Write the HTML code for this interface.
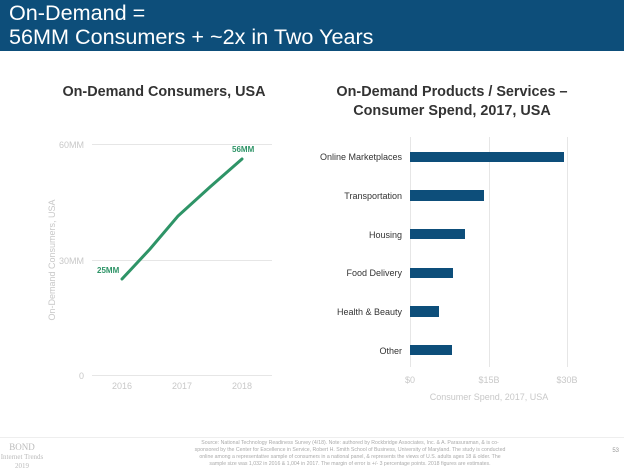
<!DOCTYPE html>
<html><head><meta charset="utf-8"><style>
body{margin:0;width:624px;height:470px;background:#fff;overflow:hidden;font-family:"Liberation Sans",sans-serif}
</style></head><body>
<svg width="624" height="470" xmlns="http://www.w3.org/2000/svg" font-family="Liberation Sans, sans-serif">
<rect x="0" y="0" width="624" height="51" fill="#0D4E7A"/>
<text x="9" y="20" font-size="21.6" fill="#fff">On-Demand =</text>
<text x="9" y="44" font-size="21.6" fill="#fff">56MM Consumers + ~2x in Two Years</text>
<text x="164" y="96" font-size="14.4" font-weight="bold" fill="#333" text-anchor="middle">On-Demand Consumers, USA</text>
<text x="452" y="96" font-size="14.4" font-weight="bold" fill="#333" text-anchor="middle">On-Demand Products / Services –</text>
<text x="452" y="115" font-size="14.4" font-weight="bold" fill="#333" text-anchor="middle">Consumer Spend, 2017, USA</text>
<g stroke="#e6e6e6" stroke-width="1">
<line x1="92" y1="144.5" x2="272" y2="144.5"/><line x1="92" y1="260.5" x2="272" y2="260.5"/><line x1="92" y1="375.5" x2="272" y2="375.5"/>
<line x1="410.5" y1="137" x2="410.5" y2="367"/><line x1="489.5" y1="137" x2="489.5" y2="367"/><line x1="567.5" y1="137" x2="567.5" y2="367"/>
</g>
<g font-size="9" fill="#c8c8c8">
<text x="84" y="148" text-anchor="end">60MM</text><text x="84" y="264" text-anchor="end">30MM</text><text x="84" y="379" text-anchor="end">0</text>
<text x="122" y="389" text-anchor="middle">2016</text><text x="182" y="389" text-anchor="middle">2017</text><text x="242" y="389" text-anchor="middle">2018</text>
<text x="410" y="383" text-anchor="middle">$0</text><text x="489" y="383" text-anchor="middle">$15B</text><text x="567" y="383" text-anchor="middle">$30B</text>
<text x="489" y="400" text-anchor="middle">Consumer Spend, 2017, USA</text>
<text transform="translate(55,260) rotate(-90)" text-anchor="middle">On-Demand Consumers, USA</text>
</g>
<polyline points="122,279 150,249 178,216 210,187 242,159" fill="none" stroke="#2E9467" stroke-width="3" stroke-linecap="round"/>
<g font-size="8" font-weight="bold" fill="#2E9467">
<text x="97" y="273">25MM</text><text x="232" y="152">56MM</text>
</g>
<g fill="#0D4E7A">
<rect x="410" y="152" width="154" height="10"/>
<rect x="410" y="190" width="74" height="11"/>
<rect x="410" y="229" width="55" height="10"/>
<rect x="410" y="268" width="43" height="10"/>
<rect x="410" y="306" width="29" height="11"/>
<rect x="410" y="345" width="42" height="10"/>
</g>
<g font-size="9" fill="#333" text-anchor="end">
<text x="402" y="160">Online Marketplaces</text>
<text x="402" y="199">Transportation</text>
<text x="402" y="238">Housing</text>
<text x="402" y="276">Food Delivery</text>
<text x="402" y="315">Health &amp; Beauty</text>
<text x="402" y="354">Other</text>
</g>
<line x1="0" y1="437.5" x2="624" y2="437.5" stroke="#eee"/>
<g font-family="Liberation Serif, serif" fill="#bbb" text-anchor="middle">
<text x="22" y="450" font-size="9">BOND</text>
<text x="22" y="459" font-size="7">Internet Trends</text>
<text x="22" y="468" font-size="7">2019</text>
</g>
<g font-size="5.2" fill="#aaa" text-anchor="middle">
<text x="350" y="444">Source: National Technology Readiness Survey (4/18). Note: authored by Rockbridge Associates, Inc. &amp; A. Parasuraman, &amp; is co-</text>
<text x="350" y="451">sponsored by the Center for Excellence in Service, Robert H. Smith School of Business, University of Maryland.  The study is conducted</text>
<text x="350" y="458">online among a representative sample of consumers in a national panel, &amp; represents the views of U.S. adults ages 18 &amp; older.  The</text>
<text x="350" y="465">sample size was 1,032 in 2016 &amp; 1,004 in 2017.  The margin of error is +/- 3 percentage points. 2018 figures are estimates.</text>
</g>
<text x="619" y="452" font-size="6" fill="#999" text-anchor="end">53</text>
</svg>
</body></html>
